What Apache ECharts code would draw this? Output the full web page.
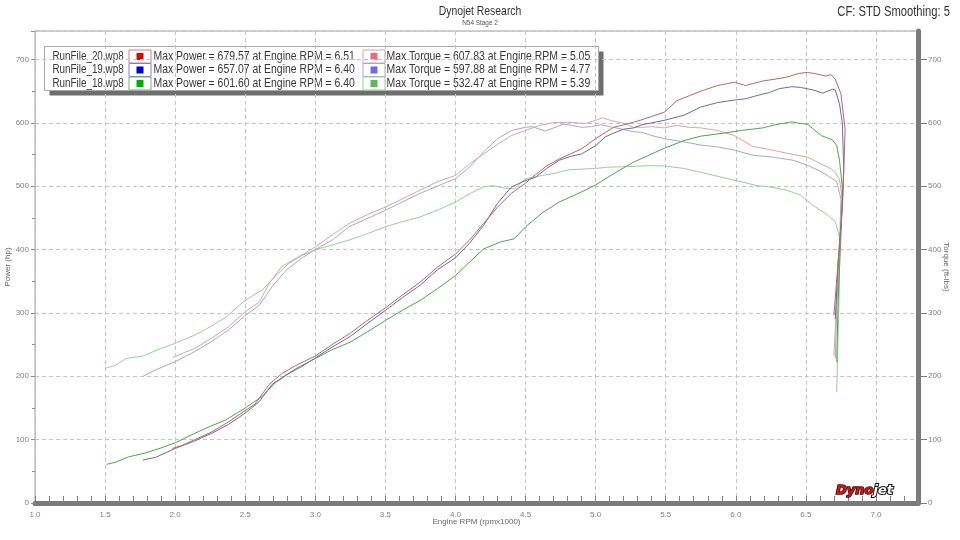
<!DOCTYPE html>
<html><head><meta charset="utf-8">
<script src="https://cdn.jsdelivr.net/npm/echarts@6/dist/echarts.min.js"></script>
<style>html,body{margin:0;padding:0;background:#fff}#c{width:960px;height:540px}</style>
</head><body><div id="c"></div>
<script>
// ---- data ----
const runNames = ['RunFile_20.wp8', 'RunFile_19.wp8', 'RunFile_18.wp8'];
const maxPower = [679.57, 657.07, 601.60];
const maxPowerRpm = [6.51, 6.40, 6.40];
const maxTorque = [607.83, 597.88, 532.47];
const maxTorqueRpm = [5.05, 4.77, 5.39];

const power20 = [[1.98,86],[2.05,91],[2.14,100],[2.26,112],[2.38,128],[2.5,146],[2.57,156],[2.67,187],[2.76,204],[2.86,217],[3.0,232],[3.12,250],[3.25,268],[3.37,288],[3.5,308],[3.62,328],[3.75,349],[3.87,372],[4.0,393],[4.1,415],[4.2,441],[4.3,467],[4.4,489],[4.5,505],[4.57,518],[4.65,532],[4.74,543],[4.82,551],[4.9,559],[5.0,575],[5.07,585],[5.13,593],[5.2,597],[5.27,601],[5.33,605],[5.4,610],[5.49,617],[5.58,635],[5.67,643],[5.75,650],[5.87,659],[5.99,664],[6.07,659],[6.19,666],[6.28,669],[6.36,672],[6.45,678],[6.51,679.57],[6.56,678],[6.64,674],[6.68,676],[6.71,669],[6.75,646],[6.77,609],[6.78,590],[6.77,520],[6.76,462],[6.73,380],[6.70,296]];
const power19 = [[1.77,68],[1.86,72],[2.0,86],[2.14,98],[2.26,110],[2.38,124],[2.5,142],[2.6,160],[2.69,187],[2.79,202],[2.9,215],[3.0,229],[3.12,246],[3.25,263],[3.37,283],[3.5,304],[3.62,324],[3.75,344],[3.87,368],[4.0,387],[4.1,410],[4.2,438],[4.3,473],[4.4,499],[4.5,509],[4.57,514],[4.65,528],[4.74,541],[4.82,547],[4.9,551],[5.0,564],[5.07,578],[5.13,584],[5.2,590],[5.27,592],[5.33,597],[5.4,600],[5.49,604],[5.63,612],[5.75,625],[5.87,632],[5.99,636],[6.07,638],[6.15,643],[6.24,648],[6.31,654],[6.4,657.07],[6.46,656],[6.55,652],[6.62,647],[6.69,653],[6.71,652],[6.74,630],[6.76,600],[6.77,530],[6.76,470],[6.73,380],[6.71,290]];
const power18 = [[1.51,61],[1.57,64],[1.67,73],[1.79,79],[1.9,87],[2.0,95],[2.14,110],[2.25,121],[2.36,131],[2.5,150],[2.62,168],[2.71,189],[2.86,212],[3.0,228],[3.12,242],[3.25,254],[3.37,270],[3.5,288],[3.62,304],[3.75,320],[3.87,338],[4.0,359],[4.1,380],[4.2,401],[4.32,412],[4.42,417],[4.5,436],[4.62,458],[4.74,475],[4.9,491],[5.0,502],[5.13,520],[5.27,538],[5.4,551],[5.49,560],[5.63,572],[5.75,579],[5.92,584],[6.04,588],[6.19,592],[6.28,597],[6.4,601.6],[6.46,599],[6.51,598],[6.55,591],[6.61,580],[6.69,573],[6.72,564],[6.74,541],[6.76,499],[6.75,420],[6.73,320],[6.72,222]];

const torque20 = [[1.98,229],[2.05,236],[2.14,244],[2.26,260],[2.38,278],[2.5,302],[2.6,317],[2.67,346],[2.76,373],[2.86,386],[3.0,404],[3.12,423],[3.24,441],[3.37,455],[3.5,467],[3.62,480],[3.74,493],[3.87,507],[4.0,517],[4.1,535],[4.2,551],[4.3,566],[4.4,580],[4.5,588],[4.6,596],[4.69,600],[4.8,601],[4.93,599],[5.05,607.83],[5.12,603],[5.19,600],[5.27,593],[5.33,593],[5.4,594],[5.49,592],[5.58,596],[5.67,593],[5.75,592],[5.87,588],[5.99,580],[6.05,572],[6.12,563],[6.26,557],[6.41,550],[6.51,546],[6.6,536],[6.67,529],[6.71,522],[6.74,510],[6.76,480],[6.74,400],[6.72,320],[6.70,232]];
const torque19 = [[1.77,200],[1.86,210],[2.0,223],[2.14,239],[2.26,255],[2.38,273],[2.5,296],[2.6,312],[2.69,341],[2.79,367],[2.9,386],[3.0,400],[3.12,415],[3.24,436],[3.37,449],[3.5,462],[3.62,475],[3.74,488],[3.87,500],[4.0,512],[4.1,530],[4.2,554],[4.3,575],[4.4,588],[4.5,593],[4.55,594],[4.64,587],[4.7,592],[4.77,597.88],[4.83,596],[4.9,593],[4.97,594],[5.04,597],[5.1,594],[5.19,590],[5.27,586],[5.33,585],[5.4,580],[5.49,575],[5.63,570],[5.75,565],[5.87,562],[5.99,557],[6.12,549],[6.26,546],[6.41,541],[6.51,533],[6.6,524],[6.69,512],[6.72,507],[6.75,480],[6.74,400],[6.72,310],[6.71,228]];
const torque18 = [[1.51,213],[1.57,217],[1.65,228],[1.77,232],[1.9,244],[2.0,252],[2.14,265],[2.25,278],[2.36,293],[2.5,320],[2.62,336],[2.71,357],[2.81,378],[2.9,390],[3.0,400],[3.12,407],[3.24,415],[3.37,425],[3.5,436],[3.62,444],[3.74,451],[3.87,462],[4.0,475],[4.1,488],[4.2,499],[4.27,501],[4.35,497],[4.42,496],[4.5,512],[4.62,517],[4.72,521],[4.81,526],[4.9,527],[5.0,528],[5.08,530],[5.23,531],[5.39,532.47],[5.49,532],[5.63,528],[5.75,522],[5.92,513],[6.04,507],[6.15,501],[6.24,499],[6.36,494],[6.46,486],[6.55,470],[6.64,457],[6.71,444],[6.74,420],[6.74,350],[6.73,260],[6.72,175]];

const titleText = 'Dynojet Research';
const subtitleText = 'N54 Stage 2';
const cornerText = 'CF: STD Smoothing: 5';

// ---- styling ----
const FONT = "'Liberation Sans',Arial,sans-serif";
const powerColors = ['#b86868', '#6a6aaa', '#4ca84c'];
const torqueColors = ['#d8a6a6', '#a8a8cc', '#9ccc9c'];
const swatchPower = ['#e00000', '#0000d8', '#00b000'];
const swatchTorque = ['#f06a6a', '#6a6af0', '#5cb85c'];
const swatchBorderP = ['#d08080', '#8080c8', '#70b870'];
const swatchBorderT = ['#e0a0a0', '#a8a8d8', '#a0d0a0'];

const powerData = [power20, power19, power18];
const torqueData = [torque20, torque19, torque18];

const chart = echarts.init(document.getElementById('c'), null, {renderer: 'canvas'});

const SX = 0.87;
const legendChildren = [];
legendChildren.push({type:'rect', shape:{x:5,y:5,width:554,height:44}, style:{fill:'#6e6e6e'}});
legendChildren.push({type:'rect', shape:{x:0,y:0,width:554,height:44}, style:{fill:'#fff', stroke:'#a8a8a8', lineWidth:1}});
for (let i = 0; i < runNames.length; i++) {
  const cy = 10 + i * 13.5;
  const ts = {fontFamily: FONT, fontSize: 12, fill: '#383838', textVerticalAlign: 'middle', textAlign: 'left'};
  legendChildren.push({type:'text', x:8, y:cy, scaleX:0.82, style:Object.assign({}, ts, {text: runNames[i]})});
  legendChildren.push({type:'rect', shape:{x:84.5,y:cy-6.5,width:22,height:13}, style:{fill:'#fff', stroke:swatchBorderP[i], lineWidth:1}});
  legendChildren.push({type:'rect', shape:{x:92,y:cy-3.5,width:7,height:7}, style:{fill:swatchPower[i]}});
  legendChildren.push({type:'text', x:109, y:cy, scaleX:SX, style:Object.assign({}, ts, {text: 'Max Power = ' + maxPower[i].toFixed(2) + ' at Engine RPM = ' + maxPowerRpm[i].toFixed(2)})});
  legendChildren.push({type:'rect', shape:{x:318.5,y:cy-6.5,width:22,height:13}, style:{fill:'#fff', stroke:swatchBorderT[i], lineWidth:1}});
  legendChildren.push({type:'rect', shape:{x:326,y:cy-3.5,width:7,height:7}, style:{fill:swatchTorque[i]}});
  legendChildren.push({type:'text', x:342, y:cy, scaleX:SX, style:Object.assign({}, ts, {text: 'Max Torque = ' + maxTorque[i].toFixed(2) + ' at Engine RPM = ' + maxTorqueRpm[i].toFixed(2)})});
}

const series = [];
for (let i = 0; i < 3; i++) {
  series.push({type:'line', name: runNames[i] + ' power', data: powerData[i], yAxisIndex: 0, showSymbol: false, symbol:'none', silent: true,
    lineStyle:{width:1, color: powerColors[i]}, z: 5 - i});
  series.push({type:'line', name: runNames[i] + ' torque', data: torqueData[i], yAxisIndex: 1, showSymbol: false, symbol:'none', silent: true,
    lineStyle:{width:1, color: torqueColors[i]}, z: 2 - i * 0.1});
}

const axisLabelStyle = {color:'#808080', fontSize:8, fontFamily: FONT};
const splitLineStyle = {show:true, lineStyle:{color:'#c4c4c4', type:[4,3], width:1}};

chart.setOption({
  animation: false,
  backgroundColor: '#fff',
  textStyle: {fontFamily: FONT},
  grid: {left:35, right:42, top:31, bottom:37, containLabel:false, outerBoundsMode:'none',
         show:true, backgroundColor:'#fff', borderColor:'#a0a0a0', borderWidth:1},
  xAxis: {
    type:'value', min:1.0, max:7.3, interval:0.5,
    name:'Engine RPM (rpmx1000)', nameLocation:'middle', nameGap:15, nameMoveOverlap:false,
    nameTextStyle:{color:'#666', fontSize:8, fontFamily:FONT},
    axisLine:{show:true, lineStyle:{color:'#7a7a7a', width:5}},
    axisTick:{show:true, inside:true, length:7, lineStyle:{color:'#808080'}},
    minorTick:{show:true, splitNumber:5, length:7, lineStyle:{color:'#808080'}},
    axisLabel:Object.assign({margin:8, showMaxLabel:false, formatter: v => v.toFixed(1)}, axisLabelStyle),
    splitLine: splitLineStyle
  },
  yAxis: [
    {type:'value', min:0, max:745, interval:100, position:'left',
     name:'Power (hp)', nameLocation:'middle', nameGap:23, nameMoveOverlap:false,
     nameTextStyle:{color:'#666', fontSize:8, fontFamily:FONT},
     axisLine:{show:true, lineStyle:{color:'#c0c0c0', width:1, type:[3,2]}},
     axisTick:{show:true, length:4, lineStyle:{color:'#909090'}},
     minorTick:{show:true, splitNumber:2, length:3, lineStyle:{color:'#909090'}},
     axisLabel:Object.assign({margin:6, showMaxLabel:false}, axisLabelStyle),
     splitLine: splitLineStyle},
    {type:'value', min:0, max:745, interval:100, position:'right',
     name:'Torque (ft-lbs)', nameLocation:'middle', nameGap:24, nameRotate:-90, nameMoveOverlap:false,
     nameTextStyle:{color:'#666', fontSize:8, fontFamily:FONT},
     axisLine:{show:true, lineStyle:{color:'#7a7a7a', width:5}},
     axisTick:{show:true, length:9, lineStyle:{color:'#808080'}},
     axisLabel:Object.assign({margin:10, showMaxLabel:false}, axisLabelStyle),
     splitLine:{show:false}}
  ],
  graphic: [
    {type:'text', x:480, y:11, scaleX:0.8, z:100, style:{text:titleText, fontFamily:FONT, fontSize:13, fill:'#333', textAlign:'center', textVerticalAlign:'middle'}},
    {type:'text', x:480, y:23, scaleX:0.8, z:100, style:{text:subtitleText, fontFamily:FONT, fontSize:8, fill:'#555', textAlign:'center', textVerticalAlign:'middle'}},
    {type:'text', x:950, y:12, scaleX:0.8, z:100, style:{text:cornerText, fontFamily:FONT, fontSize:14, fill:'#333', textAlign:'right', textVerticalAlign:'middle'}},
    {type:'group', left:44, top:46, z:100, children: legendChildren},
    {type:'text', right:66, bottom:42, z:100, style:{
      text:'{a|Dyno}{b|jet}', rich:{
        a:{fontSize:13, fontWeight:'bold', fontStyle:'italic', fill:'#e01010', stroke:'#111', lineWidth:1.5, fontFamily:"'DejaVu Sans'"},
        b:{fontSize:13, fontWeight:'bold', fontStyle:'italic', fill:'#fff', stroke:'#111', lineWidth:2, fontFamily:"'DejaVu Sans'"}
      }}}
  ],
  series: series
});
</script></body></html>
